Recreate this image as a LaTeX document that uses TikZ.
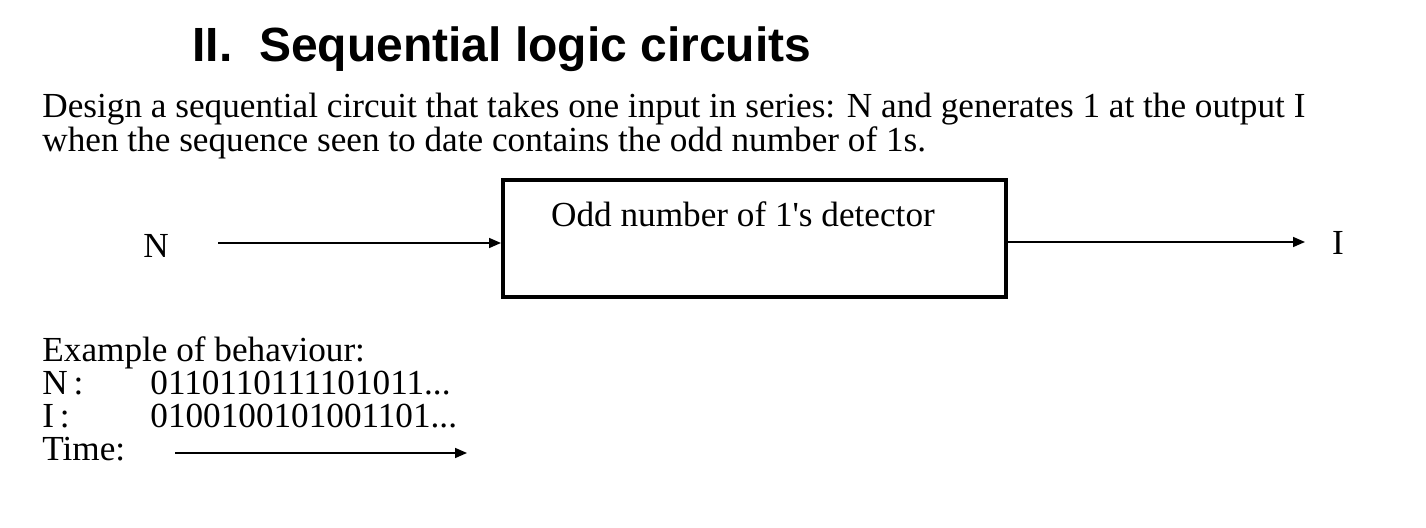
\documentclass[tikz,border=0pt]{standalone}
\usepackage{fontspec}
\setmainfont{Liberation Serif}
\newfontfamily\titlefont{Liberation Sans}
\usetikzlibrary{arrows.meta}
\begin{document}
\begin{tikzpicture}[x=0.5pt,y=-0.5pt,
  txt/.style={anchor=base west,inner sep=0pt,font=\fontsize{17.6}{20}\selectfont},
  conn/.style={line width=0.8pt,-{Triangle[length=6pt,width=5pt]}}]
\useasboundingbox (0,0) rectangle (1426,528);
\node[anchor=base west,inner sep=0pt,font=\titlefont\bfseries\fontsize{24}{27}\selectfont] (title) at (192,62) {II.\ \ Sequential logic circuits};
\node[txt] (l1) at (42,118) {Design a sequential circuit that takes one input in series: N and generates 1 at the output I};
\node[txt] (l2) at (42,152) {when the sequence seen to date contains the odd number of 1s.};
\node[draw,line width=2pt,minimum width=251.5pt,minimum height=58.5pt,inner sep=0pt] (box) at (754.5,238.5) {};
\node[txt,anchor=base] (boxt) at (743,227) {Odd number of 1\textquotesingle s detector};
\node[txt,anchor=base] (N) at (156,258) {N};
\node[txt,anchor=base] (I) at (1338,255) {I};
\coordinate (na) at (218,243);
\draw[conn] (na) -- (box.west |- na);
\coordinate (ib) at (1305,242);
\draw[conn] (box.east |- ib) -- (ib);
\node[txt] (ex) at (42,362) {Example of behaviour:};
\node[txt] (nl) at (42,395) {N\,:};
\node[txt] (nv) at (150,395) {0110110111101011...};
\node[txt] (il) at (42,428) {I\,:};
\node[txt] (iv) at (150,428) {0100100101001101...};
\node[txt] (tl) at (42,461) {Time:};
\coordinate (t0) at (175,453);
\coordinate (t1) at (467,453);
\draw[conn] (t0) -- (t1);
\end{tikzpicture}
\end{document}
